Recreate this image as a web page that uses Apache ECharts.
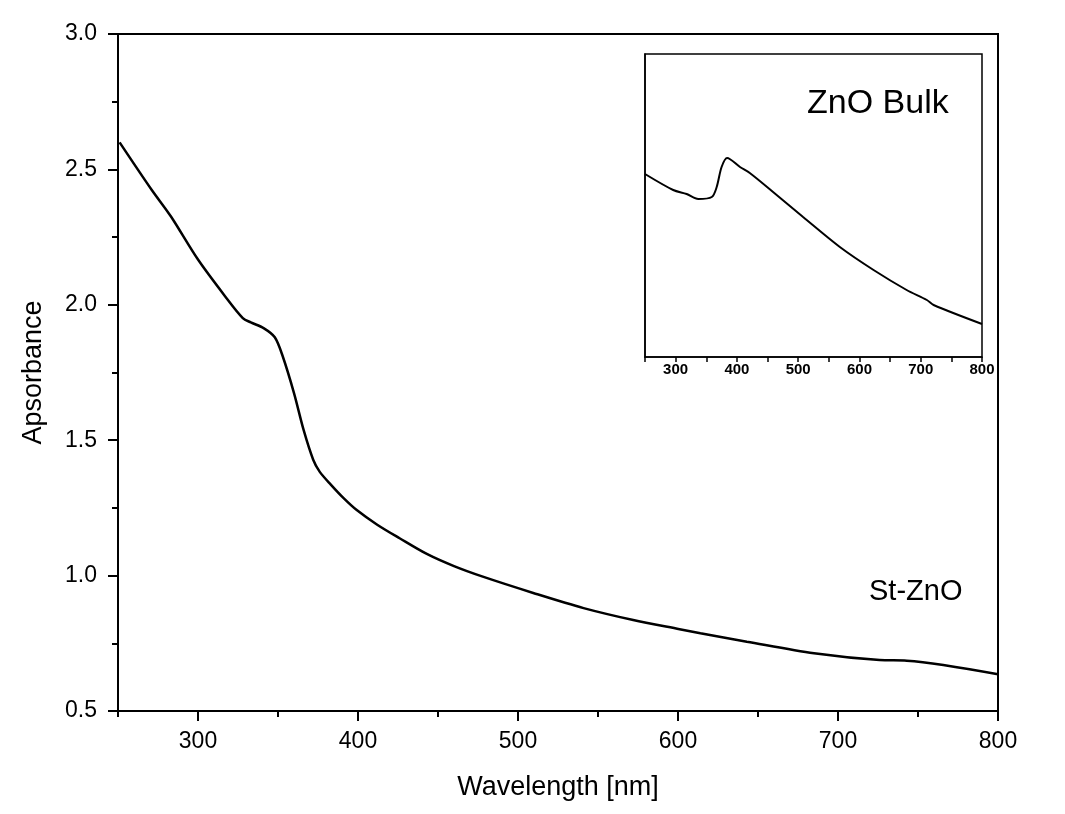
<!DOCTYPE html>
<html lang="en" style="height: 100%">
<head>
  <meta charset="utf-8">
</head>
<body style="height: 100%; margin: 0; background: #fff">
  <div id="container" style="width: 1065px; height: 814px"></div>
  <script type="text/javascript" src="https://fastly.jsdelivr.net/npm/echarts@6.0.0/dist/echarts.min.js"></script>
  <script type="text/javascript">
    // St-ZnO (main curve)
    var stWavelength = [251, 271, 283, 300, 317, 328, 333, 341, 348, 353, 360, 366, 372, 376, 383, 391, 399, 412, 426, 443, 460, 478, 510, 541, 572, 601, 614, 643, 685, 726, 743, 800];
    var stAbsorbance = [2.60, 2.425, 2.327, 2.167, 2.031, 1.951, 1.935, 1.914, 1.88, 1.809, 1.674, 1.538, 1.428, 1.384, 1.336, 1.286, 1.243, 1.188, 1.138, 1.080, 1.035, 0.996, 0.935, 0.880, 0.836, 0.802, 0.787, 0.756, 0.713, 0.688, 0.686, 0.636];

    // ZnO bulk (inset curve, arbitrary units)
    var bulkWavelength = [250, 296, 318, 337, 359, 367, 375, 384, 405, 421, 459, 508, 568, 623, 677, 710, 721, 800];
    var bulkAbsorbance = [1.83, 1.67, 1.63, 1.58, 1.60, 1.70, 1.90, 1.99, 1.90, 1.84, 1.65, 1.40, 1.10, 0.87, 0.67, 0.57, 0.52, 0.33];

    var xTicks = [300, 400, 500, 600, 700, 800];
    var xMinorTicks = [250, 350, 450, 550, 650, 750];

    function pairs(xs, ys) {
      return xs.map(function (x, i) { return [x, ys[i]]; });
    }

    var dom = document.getElementById('container');
    var myChart = echarts.init(dom, null, { renderer: 'canvas' });

    var font = 'Liberation Sans, Arial, sans-serif';
    var black = '#000';

    var option = {
      backgroundColor: '#fff',
      animation: false,
      grid: [
        { left: 118, right: 67, top: 34, bottom: 103, show: true, borderColor: black, borderWidth: 2 },
        { left: 645, right: 83, top: 54, bottom: 457, show: true, borderColor: black, borderWidth: 1.5, backgroundColor: '#fff', z: 5 }
      ],
      xAxis: [
        {
          gridIndex: 0, type: 'value', min: 250, max: 800,
          name: 'Wavelength [nm]', nameLocation: 'middle', nameGap: 63,
          nameTextStyle: { fontFamily: font, fontSize: 27, color: black },
          axisLine: { lineStyle: { color: black, width: 2 } },
          axisTick: { customValues: xTicks, length: 10, lineStyle: { width: 2, color: black } },
          axisLabel: { customValues: xTicks, fontFamily: font, fontSize: 23, color: black, margin: 19 },
          splitLine: { show: false }
        },
        {
          gridIndex: 1, type: 'value', min: 250, max: 800, interval: 50,
          axisLine: { lineStyle: { color: black, width: 1.5 } },
          axisTick: { length: 5, lineStyle: { width: 1.5, color: black } },
          axisLabel: {
            fontFamily: font, fontSize: 15, fontWeight: 'bold', color: black, margin: 5,
            formatter: function (v) { return xTicks.indexOf(v) >= 0 ? String(v) : ''; }
          },
          splitLine: { show: false },
          z: 6
        },
        {
          // minor ticks of the main x axis
          gridIndex: 0, type: 'value', min: 250, max: 800,
          position: 'bottom',
          axisLine: { show: false },
          axisTick: { customValues: xMinorTicks, length: 6, lineStyle: { width: 2, color: black } },
          axisLabel: { show: false },
          splitLine: { show: false }
        }
      ],
      yAxis: [
        {
          gridIndex: 0, type: 'value', min: 0.5, max: 3.0, interval: 0.5,
          name: 'Apsorbance', nameLocation: 'middle', nameGap: 71,
          nameTextStyle: { fontFamily: font, fontSize: 27, color: black },
          axisLine: { lineStyle: { color: black, width: 2 } },
          axisTick: { length: 10, lineStyle: { width: 2, color: black } },
          minorTick: { show: true, splitNumber: 2, length: 6, lineStyle: { width: 2, color: black } },
          axisLabel: {
            fontFamily: font, fontSize: 23, color: black, margin: 21,
            formatter: function (v) { return v.toFixed(1); }
          },
          splitLine: { show: false }
        },
        {
          gridIndex: 1, type: 'value', min: 0, max: 3.03,
          axisLine: { lineStyle: { color: black, width: 1.5 } },
          axisTick: { show: false },
          axisLabel: { show: false },
          splitLine: { show: false },
          z: 6
        }
      ],
      series: [
        {
          name: 'St-ZnO', type: 'line', xAxisIndex: 0, yAxisIndex: 0,
          data: pairs(stWavelength, stAbsorbance),
          smooth: 0.3, showSymbol: false,
          lineStyle: { color: black, width: 2.5 }
        },
        {
          name: 'ZnO Bulk', type: 'line', xAxisIndex: 1, yAxisIndex: 1,
          data: pairs(bulkWavelength, bulkAbsorbance),
          smooth: 0.3, showSymbol: false, z: 7,
          lineStyle: { color: black, width: 2 }
        }
      ],
      graphic: [
        {
          type: 'text', left: 869, top: 577, z: 10,
          style: { text: 'St-ZnO', fontFamily: font, fontSize: 29, fill: black }
        },
        {
          type: 'text', left: 807, top: 87, z: 10,
          style: { text: 'ZnO Bulk', fontFamily: font, fontSize: 34, fill: black }
        }
      ]
    };

    myChart.setOption(option);
    window.addEventListener('resize', myChart.resize);
  </script>
</body>
</html>
